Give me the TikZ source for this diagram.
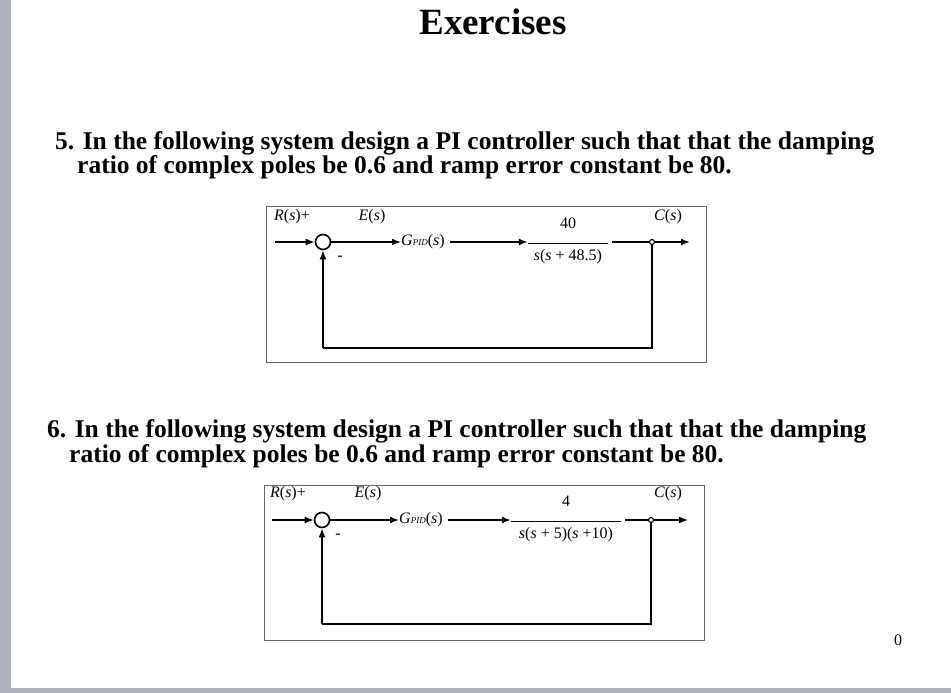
\documentclass[tikz,border=0pt]{standalone}
\usepackage{fontspec}
\setmainfont{Liberation Serif}
\usetikzlibrary{arrows.meta}
\definecolor{side}{RGB}{172,177,188}
\newcommand{\iv}[1]{\textit{#1}}
\begin{document}
\begin{tikzpicture}[x=1pt,y=-1pt,
  sig/.style={line width=1.6pt,-{Latex[length=9pt,width=7pt]}},
  ln/.style={line width=1.6pt},
  sj/.style={circle,draw,line width=1.6pt,minimum size=15pt,inner sep=0pt},
  lbl/.style={font=\fontsize{16}{18}\selectfont,inner sep=0pt},
  q/.style={font=\bfseries\fontsize{25.5}{27}\selectfont,anchor=west,inner sep=0pt}]
\useasboundingbox (0,0) rectangle (951,693);
\fill[side] (0,0) rectangle (11,693);
\fill[side] (0,688) rectangle (951,693);
\node[font=\bfseries\fontsize{37}{40}\selectfont] (title) at (493,22) {Exercises};
\node[q] (q5a) at (55,143) {5. In the following system design a PI controller such that that the damping};
\node[q] (q5b) at (77,167) {ratio of complex poles be 0.6 and ramp error constant be 80.};
\node[q] (q6a) at (47,431) {6. In the following system design a PI controller such that that the damping};
\node[q] (q6b) at (69,456) {ratio of complex poles be 0.6 and ramp error constant be 80.};
\node[font=\fontsize{16}{18}\selectfont] (pg) at (898,640) {0};
% diagram 1
\draw[gray!80!black,line width=0.8pt] (266,206) rectangle (706,362);
\coordinate (in1) at (275,242);
\node[sj] (s1) at (323,242) {};
\node[lbl,anchor=west] (g1) at (401,242) {\iv{G}{\fontsize{9}{10}\selectfont\iv{PID}}(\iv{s})};
\node[lbl,anchor=center] (p1) at (568,241) {$\vcenter{\hbox{\begin{tabular}{@{}c@{}}40\\[-3pt]\rule{80pt}{0.6pt}\\[-1pt]\iv{s}(\iv{s} + 48.5)\end{tabular}}}$};
\coordinate (d1) at (652,242);
\coordinate (o1) at (690,242);
\coordinate (b1) at (652,348);
\coordinate (b1l) at (323,348);
\draw[sig] (in1) -- (s1.west);
\draw[sig] (s1.east) -- (g1.west);
\draw[sig] ([xshift=5pt]g1.east |- s1) -- (p1.west |- s1);
\draw[ln] ([xshift=4pt]p1.east |- s1) -- (d1);
\draw[sig] (d1) -- (o1);
\draw[ln] (d1) -- (b1) -- (b1l);
\draw[sig] (b1l) -- (s1.south);
\fill[white] (d1) circle (2.5pt); \draw[line width=1.1pt] (d1) circle (2.5pt);
\node[lbl] (r1) at (292,217) {\iv{R}(\iv{s})+};
\node[lbl] (e1) at (372,217) {\iv{E}(\iv{s})};
\node[lbl] (c1) at (668,217) {\iv{C}(\iv{s})};
\node[lbl] (m1) at (340,258) {-};
% diagram 2
\draw[gray!80!black,line width=0.8pt] (264,485) rectangle (704,640);
\coordinate (in2) at (272,520);
\node[sj] (s2) at (322,520) {};
\node[lbl,anchor=west] (g2) at (399,520) {\iv{G}{\fontsize{9}{10}\selectfont\iv{PID}}(\iv{s})};
\node[lbl,anchor=center] (p2) at (566,519) {$\vcenter{\hbox{\begin{tabular}{@{}c@{}}4\\[-3pt]\rule{110pt}{0.6pt}\\[-1pt]\iv{s}(\iv{s} + 5)(\iv{s} +10)\end{tabular}}}$};
\coordinate (d2) at (651,520);
\coordinate (o2) at (688,520);
\coordinate (b2) at (651,624);
\coordinate (b2l) at (322,624);
\draw[sig] (in2) -- (s2.west);
\draw[sig] (s2.east) -- (g2.west);
\draw[sig] ([xshift=5pt]g2.east |- s2) -- (p2.west |- s2);
\draw[ln] ([xshift=4pt]p2.east |- s2) -- (d2);
\draw[sig] (d2) -- (o2);
\draw[ln] (d2) -- (b2) -- (b2l);
\draw[sig] (b2l) -- (s2.south);
\fill[white] (d2) circle (2.5pt); \draw[line width=1.1pt] (d2) circle (2.5pt);
\node[lbl] (r2) at (288,494) {\iv{R}(\iv{s})+};
\node[lbl] (e2) at (368,494) {\iv{E}(\iv{s})};
\node[lbl] (c2) at (668,494) {\iv{C}(\iv{s})};
\node[lbl] (m2) at (338,536) {-};
\end{tikzpicture}
\end{document}
